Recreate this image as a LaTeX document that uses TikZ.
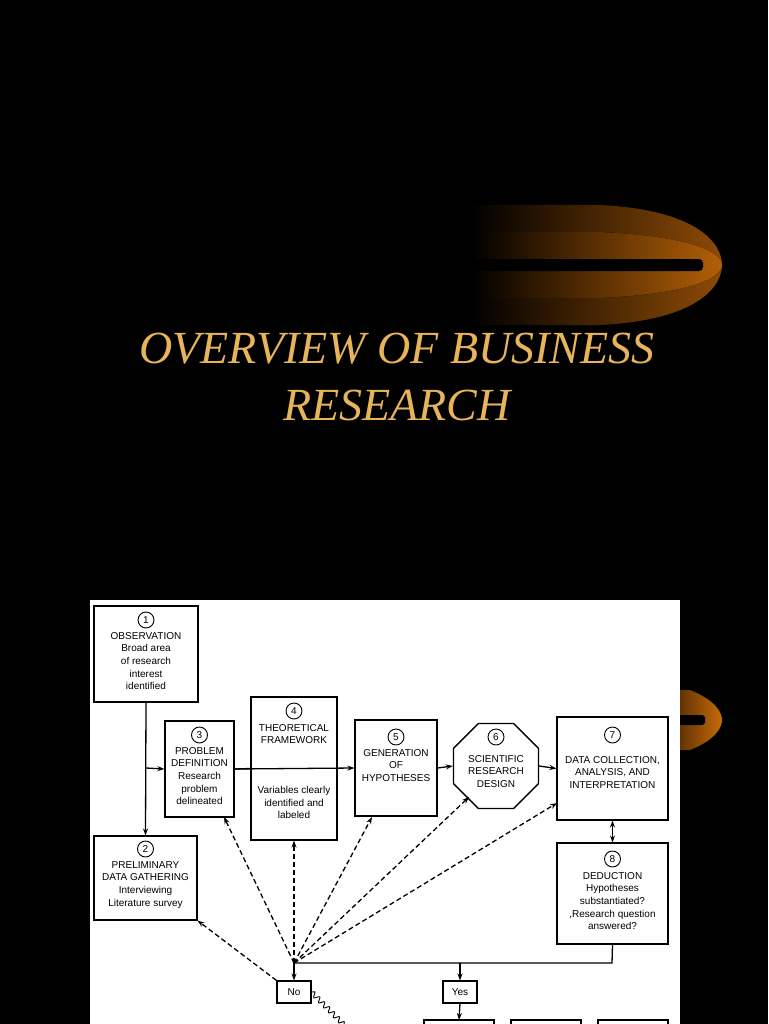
\documentclass[tikz,border=0pt]{standalone}
\usepackage{fontspec}
\setmainfont{Liberation Sans}
\newfontfamily\titlefont{Liberation Serif}
\usetikzlibrary{shapes.geometric,arrows.meta,decorations.pathmorphing}
\definecolor{gold}{HTML}{E8B45A}
\definecolor{amber}{HTML}{C86A08}
\begin{document}
\begin{tikzpicture}[x=1pt,y=-1pt,
  bx/.style={draw,line width=1.1pt,fill=white,align=center,font=\fontsize{10}{12}\selectfont,inner sep=1pt},
  tx/.style={font=\fontsize{10}{12.7}\selectfont,align=center,anchor=north,inner sep=0pt},
  num/.style={draw,circle,line width=0.9pt,inner sep=0.6pt,minimum size=16pt,font=\fontsize{10}{10}\selectfont},
  arr/.style={line width=1.3pt,-{Stealth[length=7pt,width=5pt]}},
  darr/.style={line width=1.3pt,dash pattern=on 5pt off 3pt,-{Stealth[length=7pt,width=5pt]}}]
\fill[black] (0,0) rectangle (768,1024);
\useasboundingbox (0,0) rectangle (768,1024);
% swoosh
\shade[left color=black,right color=amber,opacity=0.9] (470,232) -- (600,232) .. controls (690,236) and (722,252) .. (722,265) .. controls (722,278) and (690,294) .. (600,298) -- (470,298) -- cycle;
\shade[left color=black,right color=amber!70!black] (470,205) -- (600,205) .. controls (700,210) and (722,245) .. (722,265) .. controls (722,285) and (700,320) .. (600,325) -- (470,325) -- (470,298) -- (600,298) .. controls (690,294) and (722,278) .. (722,265) .. controls (722,252) and (690,236) .. (600,232) -- (470,232) -- cycle;
\fill[black,rounded corners=4pt] (470,259) rectangle (703,271);
% second swoosh behind diagram
\shade[left color=black,right color=amber] (640,690) -- (690,690) .. controls (715,700) and (722,712) .. (722,720) .. controls (722,728) and (715,740) .. (690,750) -- (640,750) -- cycle;
\fill[black,rounded corners=3pt] (640,715) rectangle (705,725);
% title
\node[gold,font=\titlefont\itshape\fontsize{46}{57}\selectfont,align=center] (title) at (397,377) {OVERVIEW OF BUSINESS\\RESEARCH};
% diagram area
\fill[white] (90,600) rectangle (680,1024);
\node[bx,minimum width=104pt,minimum height=96pt] (b1) at (146,654) {};
\node[num] (n1) at (146,620) {1};
\node[tx] (t1) at (146,632) {OBSERVATION\\Broad area\\of research\\interest\\identified};
\node[bx,minimum width=69pt,minimum height=96pt] (b3) at (199.5,769) {};
\node[num] (n3) at (199.5,735) {3};
\node[tx] (t3) at (199.5,747) {PROBLEM\\DEFINITION\\Research\\problem\\delineated};
\node[bx,minimum width=86pt,minimum height=143pt] (b4) at (294,768.5) {};
\node[num] (n4) at (294,711) {4};
\node[tx] (t4a) at (294,724) {THEORETICAL\\FRAMEWORK};
\node[tx] (t4b) at (294,786) {Variables clearly\\identified and\\labeled};
\node[bx,minimum width=82pt,minimum height=96pt] (b5) at (396,768) {};
\node[num] (n5) at (396,737) {5};
\node[tx] (t5) at (396,749) {GENERATION\\OF\\HYPOTHESES};
\node[draw,line width=1.3pt,regular polygon,regular polygon sides=8,minimum size=92pt,inner sep=0pt] (b6) at (496,766) {};
\node[num] (n6) at (496,737) {6};
\node[tx] (t6) at (496,755) {SCIENTIFIC\\RESEARCH\\DESIGN};
\node[bx,minimum width=111pt,minimum height=103pt] (b7) at (612.5,768.5) {};
\node[num] (n7) at (612.5,735) {7};
\node[tx] (t7) at (612.5,756) {DATA COLLECTION,\\ANALYSIS, AND\\INTERPRETATION};
\node[bx,minimum width=111pt,minimum height=101pt] (b8) at (612.5,893.5) {};
\node[num] (n8) at (612.5,859) {8};
\node[tx] (t8) at (612.5,872) {DEDUCTION\\Hypotheses\\substantiated?\\,Research question\\answered?};
\node[bx,minimum width=103pt,minimum height=84pt] (b2) at (145.5,878) {};
\node[num] (n2) at (145.5,849) {2};
\node[tx] (t2) at (145.5,861) {PRELIMINARY\\DATA GATHERING\\Interviewing\\Literature survey};
\node[bx,minimum width=34pt,minimum height=22pt] (no) at (294,992) {No};
\node[bx,minimum width=34pt,minimum height=22pt] (yes) at (460,992) {Yes};
\draw[line width=1.1pt] (424,1020) rectangle (494,1030) (511,1020) rectangle (581,1030) (598,1020) rectangle (668,1030);
\coordinate (bx1) at (459,1020);
% connectors
\coordinate (j1) at (146,768);
\draw[arr] (b1.south) -- (b2.north);
\draw[arr] (j1) -- (b3.west);
\draw[line width=1.3pt] (b3.east) -- (b4.west);
\draw[arr] (b3.east) -- (b5.west);
\draw[arr] (b5.east) -- (b6.west);
\draw[arr] (b6.east) -- (b7.west);
\draw[line width=1.3pt,{Stealth[length=7pt,width=5pt]}-{Stealth[length=7pt,width=5pt]}] (b7.south) -- (b8.north);
\coordinate (j) at (294,963);
\coordinate (jy) at (460,963);
\draw[line width=1.3pt] (b8.south) -- (612,963) -- (j);
\draw[arr] (j) -- (no.north);
\draw[arr] (jy) -- (yes.north);
\draw[arr] (yes.south) -- (bx1);
\draw[darr] (no.north west) -- (b2.south east);
\draw[darr] (j) -- (224,817);
\draw[darr] (j) -- (b4.south);
\draw[darr] (j) -- (372,817);
\draw[darr] (j) -- (469,797);
\draw[darr] (j) -- (557,803);
\coordinate (w) at (345,1026);
\draw[line width=0.9pt,decorate,decoration={snake,amplitude=2.5pt,segment length=7pt}] (no.east) -- (w);
\end{tikzpicture}
\end{document}
